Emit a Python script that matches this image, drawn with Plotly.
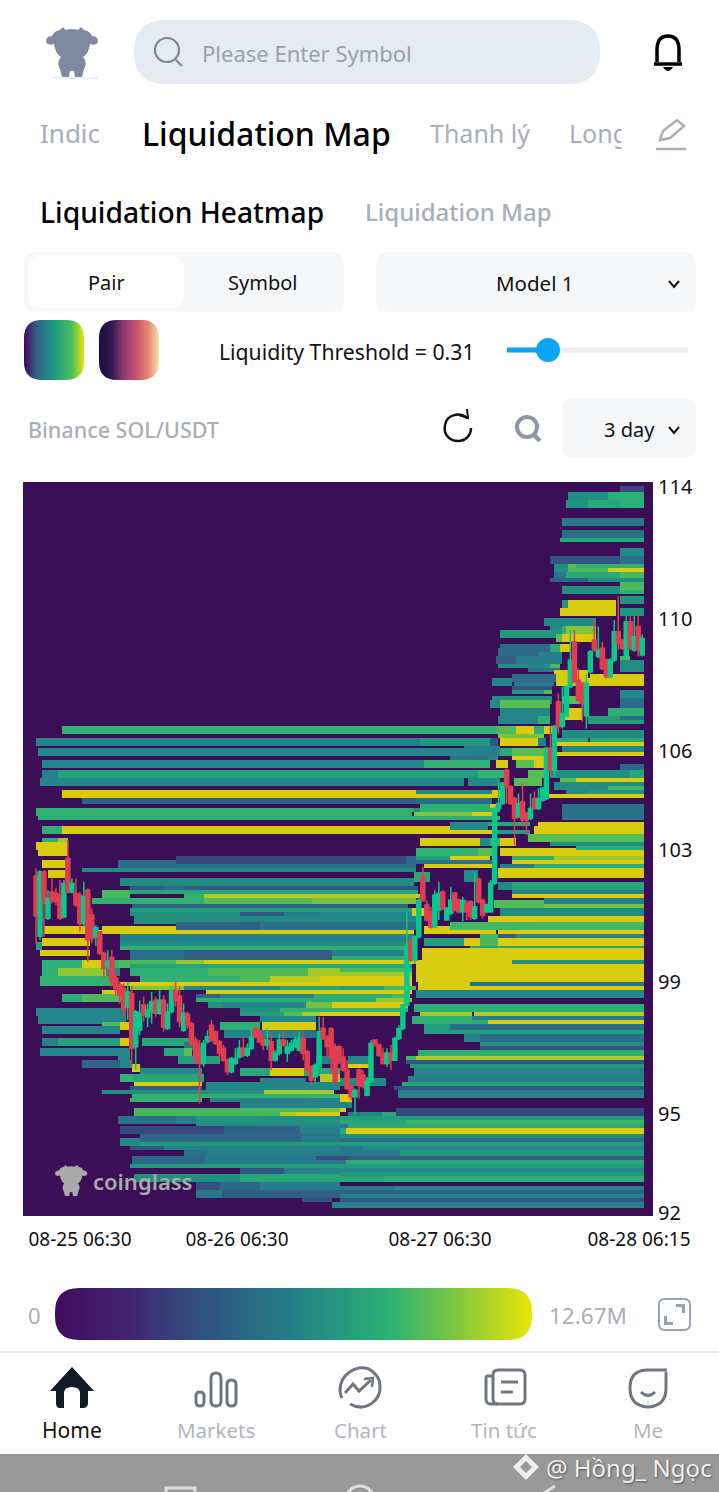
import re
import numpy as np
import plotly.graph_objects as go

W, H = 719, 1492
FONT = "Noto Sans"

# 30 minute-ish bars, x is the bar number on a category style axis
candle_open = [102.21,100.39,102.33,100.93,101.73,101.68,101.63,100.98,102.74,101.73,101.68,101.63,100.77,101.78,101.03,100.37,100.52,99.87,99.46,99.74,99.11,98.91,98.80,98.25,98.65,97.04,97.54,98.30,97.95,98.10,98.45,98.05,98.45,97.59,98.10,98.75,98.57,97.54,98.03,97.74,97.24,97.04,96.53,97.19,97.69,97.49,97.19,96.99,96.63,96.28,96.53,96.73,96.99,96.78,96.99,97.59,97.49,97.29,97.09,97.19,96.63,96.84,97.24,96.84,96.94,97.04,96.94,97.29,96.89,96.43,96.13,96.43,97.59,97.34,97.59,97.04,
               97.04,96.73,96.33,95.83,95.52,96.33,96.18,95.57,95.98,97.24,97.09,96.84,96.53,96.84,96.63,97.29,97.59,98.30,100.27,99.66,100.37,102.17,101.33,101.13,100.67,101.18,101.73,100.88,101.08,101.70,101.48,101.13,101.38,101.43,100.93,102.11,101.48,101.13,101.13,
               101.99,104.26,104.41,105.42,104.92,104.56,104.01,104.46,104.11,103.96,104.56,104.26,104.51,104.56,106.08,105.42,107.49,106.74,107.06,107.95,109.31,108.15,108.05,107.06,108.40,109.36,108.86,109.11,108.76,108.25,108.76,109.61,109.36,108.86,109.92,109.06,109.77,108.91]
candle_close = [101.00,102.33,101.38,101.53,101.48,101.43,100.93,101.99,101.73,101.99,101.33,100.77,101.58,100.27,100.32,100.65,99.87,99.41,99.61,99.01,98.80,98.60,98.15,98.70,96.99,98.10,98.05,98.00,98.15,98.40,98.05,98.45,97.64,98.10,98.75,98.45,97.80,98.05,97.69,97.14,96.73,96.53,97.14,97.34,97.24,97.14,96.84,96.63,96.28,96.68,96.68,96.99,96.78,96.99,97.34,97.34,97.19,97.09,97.24,96.63,96.84,97.24,97.09,97.04,97.14,97.24,97.29,96.84,96.33,96.03,96.48,97.49,97.29,97.04,96.73,95.98,
                96.58,96.33,95.77,95.52,95.72,95.88,95.83,95.98,97.14,97.09,96.78,96.53,96.84,96.63,97.29,97.59,98.30,100.07,99.66,100.37,101.48,101.46,100.88,100.67,101.63,101.68,101.23,101.23,101.48,101.18,101.13,101.48,101.13,100.98,101.28,101.43,101.03,101.33,101.99,
                104.26,104.41,105.02,104.92,104.41,103.96,104.41,103.91,103.91,104.26,104.26,104.56,104.87,106.08,105.42,106.74,106.74,107.14,107.95,108.76,108.10,107.54,107.44,108.05,109.01,109.06,109.06,108.50,108.25,108.76,109.61,109.26,109.11,109.92,109.11,109.46,109.06,109.41]
candle_high = [102.44,102.39,102.39,101.78,102.14,101.84,102.09,102.09,103.30,102.14,102.14,101.73,102.04,101.84,101.23,100.72,100.52,99.92,99.97,99.97,99.31,99.01,98.96,99.01,98.86,98.15,98.45,98.55,98.35,98.70,98.55,98.75,98.60,98.35,98.86,99.01,98.86,98.35,98.10,97.80,97.34,97.24,97.24,97.54,97.85,97.54,97.24,97.09,96.68,96.73,96.99,97.24,97.34,97.14,97.54,97.64,97.54,97.34,97.59,97.49,96.94,97.44,97.49,97.24,97.24,97.34,97.49,97.49,96.94,96.48,96.53,97.95,97.95,97.39,97.64,97.14,
               97.09,96.99,96.63,95.88,95.77,96.38,96.33,96.13,97.24,97.26,97.14,96.99,96.99,97.09,97.34,97.69,98.35,101.13,100.32,100.42,101.58,102.49,101.48,101.28,101.78,102.04,101.78,101.28,101.89,101.73,101.53,101.58,101.48,101.48,102.34,102.17,101.53,101.38,102.09,
               104.31,105.07,105.07,105.47,104.97,104.61,104.71,105.02,104.16,104.71,104.77,104.87,104.92,106.13,106.74,106.79,107.74,107.95,108.00,109.66,109.66,108.50,108.10,108.35,109.06,109.97,109.77,109.31,108.81,108.81,109.97,110.69,109.41,110.09,110.09,110.09,110.09,109.54]
candle_low = [100.17,100.27,100.37,100.88,101.38,101.33,100.88,100.93,101.68,101.68,101.28,100.52,100.67,99.61,100.17,100.09,99.82,99.14,99.36,98.86,98.60,98.35,97.95,97.85,96.43,96.33,97.39,97.80,97.64,97.74,97.95,98.00,97.49,97.54,98.05,98.25,97.64,97.49,97.59,97.04,96.53,95.32,96.43,97.14,97.19,97.09,96.73,96.58,96.18,96.23,96.48,96.68,96.73,96.73,96.94,97.29,97.14,96.94,96.94,96.33,96.58,96.78,97.04,96.58,96.89,96.99,96.89,96.63,96.28,95.88,95.93,96.38,97.24,96.73,96.23,95.93,
              96.53,96.28,95.72,95.42,94.97,95.47,95.77,95.54,95.95,97.04,96.73,96.51,96.43,96.33,96.61,97.24,97.54,98.25,99.61,99.56,100.32,101.43,100.83,100.62,100.62,100.88,101.18,100.86,101.03,101.13,101.08,100.83,100.88,100.88,100.88,101.38,100.93,101.08,101.10,
              101.94,104.21,104.36,104.41,104.36,103.15,103.96,103.71,103.45,103.91,104.21,104.21,104.46,104.51,105.22,105.22,106.53,106.68,107.02,107.90,108.05,107.49,106.89,106.68,108.35,109.01,108.81,108.45,108.20,108.20,108.70,109.06,109.06,108.81,109.06,109.01,108.86,108.86]

y_ticks = [114, 110, 106, 103, 99, 95, 92]
x_tick_bars = [11, 50.25, 101, 150.75]
x_tick_labels = ["08-25 06:30", "08-26 06:30", "08-27 06:30", "08-28 06:15"]
legend_min, legend_max = "0", "12.67M"
VMAX = 12.67

# liquidity bands: (price top, price bottom, [(from bar, to bar, value in M), ...])
bands_top = [
    (114.03, 113.79, [(146, 152, 3.3)]),
    (113.85, 113.61, [(133, 143, 6.3), (143, 152, 8)]),
    (113.61, 113.36, [(132.5, 138, 6.6), (138, 146, 7.6), (146, 152, 8)]),
    (113.06, 112.82, [(131.5, 152, 5)]),
    (112.70, 112.45, [(131.5, 152, 4.6)]),
    (112.45, 112.33, [(131, 152, 7.6)]),
    (112.15, 111.91, [(146, 152, 6)]),
    (111.91, 111.67, [(128.5, 146, 3.6), (146, 152, 4.6)]),
    (111.67, 111.55, [(129.5, 133, 6.3), (133, 135, 10), (135, 152, 8.4)]),
    (111.55, 111.42, [(129.5, 133, 6.3), (133, 143, 9.6), (143, 152, 12.67)]),
    (111.42, 111.24, [(129.5, 132.5, 5), (132.5, 146, 7.8), (146, 152, 9.4)]),
    (111.24, 111.12, [(128.5, 138, 4), (138, 152, 6.4)]),
    (111.12, 111.00, [(146, 152, 9.5)]),
    (111.00, 110.88, [(131.5, 146, 6.4), (146, 152, 9.5)]),
    (110.88, 110.76, [(131.5, 146, 6.4), (146, 152, 8)]),
    (110.70, 110.45, [(146, 152, 6.6)]),
    (110.58, 110.33, [(131.5, 133, 6.5), (133, 145, 12.67)]),
    (110.33, 110.09, [(131, 145, 12.67), (146, 152, 6.6)]),
    (110.03, 109.79, [(127, 140, 6)]),
    (109.79, 109.55, [(128.5, 131.5, 6), (131.5, 132.5, 8.5), (132.5, 140, 10.6)]),
    (109.67, 109.42, [(116, 128.5, 6.8), (128.5, 131.5, 6.6)]),
    (109.55, 109.30, [(130, 131.5, 10), (131.5, 140, 12.67)]),
    (109.24, 109.00, [(116, 128.5, 4.4), (128.5, 131, 8), (131, 133.5, 12.67)]),
    (109.12, 108.88, [(115.5, 125.5, 4.2)]),
    (109.00, 108.76, [(125.5, 131.5, 5.6)]),
    (108.88, 108.64, [(115, 120, 3.8), (120, 131.5, 5.2), (146, 148.5, 9.5)]),
    (108.76, 108.39, [(146, 152, 6.2)]),
    (108.64, 108.52, [(115.5, 128.5, 6.2), (128.5, 131, 9.5)]),
    (108.52, 108.39, [(123, 131, 5)]),
    (108.45, 108.21, [(129.5, 138, 12.67)]),
    (108.33, 107.97, [(138.5, 152, 12.67)]),
    (108.33, 108.09, [(119, 130, 4.2)]),
    (108.21, 107.97, [(114, 119, 5.6), (130, 138.5, 12.67)]),
    (108.09, 107.97, [(119.5, 129.5, 5.2)]),
    (107.97, 107.85, [(119, 129.25, 3.6)]),
    (107.85, 107.73, [(119, 127, 6.6), (127, 129.25, 10)]),
    (107.85, 107.61, [(146, 152, 6)]),
    (107.67, 107.42, [(114, 129, 6.4), (131.5, 136, 10)]),
    (107.61, 107.30, [(146, 152, 4.4)]),
    (107.55, 107.30, [(113.5, 116, 6), (116, 128.5, 10)]),
    (107.30, 107.06, [(116, 128.5, 5.8), (143, 152, 8)]),
    (107.30, 106.94, [(131.75, 136.75, 12.67)]),
    (107.06, 106.82, [(115.5, 125.5, 5.8), (125.5, 128.5, 8)]),
    (107.06, 106.94, [(138, 146, 7), (146, 152, 4.4)]),
    (106.94, 106.82, [(138, 152, 7)]),
]

bands_upper = [
    (106.76, 106.52, [(6.5, 115, 8.4), (115, 120, 9.8), (120, 124.5, 12.67), (124.5, 127, 8), (127, 129, 12.67)]),
    (106.64, 106.39, [(131.5, 152, 6.2)]),
    (106.52, 106.39, [(115.5, 127, 10.5)]),
    (106.39, 106.15, [(0, 96, 5.6), (96, 113.5, 6.6), (113.5, 115.5, 3.6), (116, 125.5, 12.67), (125.5, 127.5, 5.4)]),
    (106.39, 106.27, [(130, 138, 7.6), (138.5, 152, 7.8)]),
    (106.27, 106.15, [(129.5, 152, 12.67)]),
    (106.15, 106.09, [(107, 116, 5.4)]),
    (106.15, 105.97, [(131.5, 152, 6)]),
    (106.09, 105.85, [(0.5, 109, 5.8), (109, 116, 5.6), (116, 119, 7.8), (119, 127, 10)]),
    (105.97, 105.85, [(129.5, 152, 12.67)]),
    (105.85, 105.73, [(103.5, 113, 4.6), (113, 115.5, 6), (119, 127, 12.67)]),
    (105.73, 105.48, [(1.5, 97, 5.8), (97, 113.5, 8.4), (115, 118, 12.67), (120, 124.5, 10), (124.5, 127, 12.67)]),
    (105.61, 105.36, [(146, 152, 4.2)]),
    (105.42, 105.18, [(1.5, 5.5, 5.6), (5.5, 110.5, 7.2), (110.5, 117.5, 8.6), (123, 127, 10), (128.5, 148.5, 6.4), (148.5, 152, 7.4)]),
    (105.18, 104.94, [(1, 107, 5.8), (108, 116, 6), (119.5, 126.5, 10)]),
    (105.18, 105.06, [(131, 135, 10), (135, 152, 12.67)]),
    (105.06, 104.82, [(129.5, 152, 6.2)]),
    (104.94, 104.82, [(143, 152, 9)]),
    (104.82, 104.70, [(6.5, 95, 12.67), (95, 114, 6.2), (114, 116, 12.67), (132.5, 138, 6), (138, 152, 6.6)]),
    (104.70, 104.58, [(6.5, 116, 12.67), (128, 152, 12.67)]),
    (104.58, 104.39, [(11.5, 95, 3.8), (95, 114, 4.4)]),
    (104.39, 103.91, [(131.5, 152, 4.8)]),
    (104.39, 104.27, [(96, 113.5, 8), (113.5, 116, 12.67)]),
    (104.27, 104.15, [(0, 94.5, 8.4), (94.5, 96, 6), (96, 116, 8.2)]),
    (104.15, 104.03, [(0, 94, 8.4), (94.5, 109, 10.5), (109, 115, 12.67)]),
    (104.03, 103.91, [(0.5, 116, 8.2)]),
    (103.85, 103.73, [(125.5, 152, 12.67), (103.5, 113, 6), (113, 123.5, 7.6)]),
    (103.73, 103.61, [(1.5, 6.5, 8.4), (6.5, 103.5, 12.67), (103.5, 113, 6), (124.5, 152, 12.67)]),
    (103.61, 103.48, [(1.5, 6.5, 8.4), (6.5, 115, 12.67), (115, 123.5, 7), (124.5, 152, 12.67)]),
    (103.48, 103.24, [(123, 152, 10)]),
    (103.36, 103.12, [(1.5, 5.5, 8.4), (5.5, 8, 11), (96, 111, 12.67), (111, 113.5, 6.2), (113.5, 116, 8.4), (116, 120, 12.67)]),
    (103.24, 103.12, [(128.5, 152, 6.4)]),
    (103.24, 103.00, [(0, 8, 12.67)]),
    (103.12, 102.82, [(0.5, 8, 12.67)]),
]

bands_middle = [
    (103.12, 103.00, [(135, 152, 8)]),
    (103.06, 102.82, [(95, 110.5, 8.6), (110.5, 115, 10), (116, 135, 12.67)]),
    (103.00, 102.82, [(135, 152, 12.67)]),
    (102.82, 102.58, [(35, 92.5, 3.3), (92.5, 95, 4.2)]),
    (102.82, 102.70, [(95, 103.5, 7), (103.5, 113.5, 12.67), (119, 129.5, 8.4), (129.5, 152, 11)]),
    (102.70, 102.45, [(1.5, 7.5, 12.67), (20.5, 35, 4.4)]),
    (102.70, 102.58, [(95, 114.5, 4.6), (119, 152, 12.67)]),
    (102.58, 102.45, [(35, 95, 4.6), (97, 114.5, 12.67), (116, 124.5, 5.4), (124.5, 152, 7.8)]),
    (102.45, 102.33, [(11.5, 95, 6.2)]),
    (102.45, 102.15, [(115.5, 152, 12.67)]),
    (102.39, 102.15, [(3, 7.5, 12.67)]),
    (102.33, 102.03, [(94.5, 98.5, 7.6)]),
    (102.39, 102.03, [(107, 110.5, 6.2)]),
    (102.15, 101.91, [(21, 94.5, 6.2)]),
    (102.03, 101.79, [(115.5, 119, 6), (119, 152, 7.6)]),
    (101.91, 101.79, [(23.5, 32, 3.8), (32, 37, 4.4), (37, 95.5, 3.7)]),
    (101.79, 101.67, [(16.5, 23.5, 9.4), (23.5, 95.5, 7.4), (119, 152, 5.4)]),
    (101.67, 101.55, [(16.5, 23.5, 9.4), (37, 42, 8.6), (42, 95, 11.6), (95, 96, 12.67), (119, 152, 12.67)]),
    (101.55, 101.36, [(14, 42, 8.4), (42, 69, 9.8), (69, 95, 10.4), (127, 152, 5.4)]),
    (101.48, 101.24, [(114.5, 127, 9.8)]),
    (101.36, 101.24, [(24, 93, 4), (127, 152, 10.4)]),
    (101.24, 101.12, [(23.5, 94, 7), (94, 95, 8)]),
    (101.24, 101.00, [(94, 97.5, 12.67), (116, 152, 6.2)]),
    (101.12, 100.88, [(51, 62, 3.6), (62, 71, 5.4)]),
    (101.12, 101.00, [(23.5, 51, 6.4), (71, 94, 5.8)]),
    (101.00, 100.76, [(24.5, 51, 6.4), (51, 96, 6), (113, 152, 12.67)]),
    (100.82, 100.58, [(35, 56, 3.9), (56, 95, 4.6)]),
    (100.82, 100.70, [(103.5, 125, 9.2), (125, 152, 9.4)]),
    (100.70, 100.58, [(2, 13, 12.67), (16.5, 35, 12.67), (97, 103.5, 12.67), (103.5, 152, 9.2)]),
    (100.58, 100.45, [(2, 94.5, 12.67), (97, 115, 12.67), (115.5, 152, 12.67)]),
    (100.45, 100.21, [(21, 94.5, 5.6)]),
    (100.45, 100.33, [(111, 115.5, 9.4), (115.5, 120, 3.9), (120, 152, 5.8)]),
    (100.33, 100.09, [(1.5, 13.5, 12.67), (97, 107, 7), (107, 152, 12.67), (111, 115.5, 9.4)]),
    (100.21, 99.97, [(0, 1.5, 7)]),
    (100.21, 100.09, [(21, 94.5, 6.4)]),
    (100.09, 99.97, [(21, 94.5, 8), (108.5, 152, 7.4)]),
    (100.03, 99.67, [(96.5, 152, 12.67)]),
    (99.97, 99.79, [(1, 13.5, 12.67), (23.5, 37, 4.4), (37, 74, 3.8), (74, 94, 5.6)]),
    (99.79, 99.67, [(23.5, 37, 4.4), (37, 74, 3.8), (74, 94, 8.2)]),
]

bands_lower = [
    (99.67, 99.42, [(1.5, 11.5, 8.2), (11.5, 17.5, 12.67), (17.5, 20.5, 8.6), (20.5, 35, 9.6), (35, 42, 10.8)]),
    (99.67, 99.55, [(42, 96.5, 12.67), (96.5, 119, 12.67), (119, 152, 6.4)]),
    (99.55, 99.42, [(23.5, 94, 7.4)]),
    (99.55, 99.00, [(95, 152, 12.67)]),
    (99.42, 99.18, [(1.5, 5.5, 8.2), (5.5, 17.5, 10.8), (17.5, 21, 6), (23.5, 43, 8), (43, 68, 9.6), (68, 76, 11)]),
    (99.42, 99.30, [(76, 94, 9.4)]),
    (99.30, 99.18, [(76, 94, 11)]),
    (99.18, 99.00, [(1, 20, 8.4), (26, 51, 8.4), (51, 58.5, 9.6), (58.5, 71, 11.8), (71, 94, 12.67)]),
    (99.00, 98.88, [(1, 20, 8.4), (21, 94, 12.67), (95.5, 108.5, 12.67), (108.5, 152, 4.6)]),
    (98.88, 98.76, [(23.5, 37, 10.6), (37, 61, 6), (61, 76, 7.4), (76, 87, 7), (87, 95, 9.6), (95.5, 152, 12.67)]),
    (98.76, 98.64, [(16.5, 21, 12.67), (42.5, 94, 12.67)]),
    (98.64, 98.52, [(16.5, 21, 12.67), (40, 46, 3.9), (46, 69.5, 5.6), (69.5, 89, 8), (89, 93.5, 9.6)]),
    (98.76, 98.52, [(95, 152, 5.8)]),
    (98.64, 98.39, [(6.5, 11.5, 8), (11.5, 22, 9.6)]),
    (98.52, 98.39, [(40, 85, 8), (85, 94, 10.8)]),
    (98.39, 98.21, [(43, 46.5, 6.5), (46.5, 67.5, 6), (67.5, 74, 10.4), (74, 93, 12.67)]),
    (98.33, 98.09, [(94.5, 152, 8)]),
    (98.21, 97.97, [(0, 22.5, 5.8)]),
    (98.21, 98.09, [(51, 61, 6.4), (61, 93, 8.6)]),
    (98.09, 97.97, [(51, 62, 7), (62, 66.5, 9.8), (66.5, 71, 11), (71, 91, 12.67), (96, 109, 11), (109.5, 152, 11.4)]),
    (97.97, 97.85, [(0.5, 22.5, 5.8), (94, 109, 8), (109, 152, 5.4)]),
    (97.85, 97.73, [(0.5, 22.5, 5.8), (94, 113, 8), (113, 152, 12.67)]),
    (97.97, 97.79, [(56, 70, 6)]),
    (97.79, 97.55, [(16.5, 21, 9.6), (21, 24, 12.67), (46, 56, 8.2), (56.5, 70, 12.67)]),
    (97.73, 97.55, [(97, 103.5, 7), (103.5, 152, 4.4)]),
    (97.67, 97.42, [(1.5, 21, 5.8)]),
    (97.55, 97.42, [(97, 152, 7)]),
    (97.55, 97.30, [(47, 66.5, 5.6), (66.5, 70, 4.6)]),
    (97.42, 97.18, [(107, 111, 5.4), (111, 152, 4.4)]),
    (97.30, 97.06, [(1.5, 5.5, 5.6), (5.5, 21, 7.2), (21, 24.5, 12.67), (26.5, 39, 7.6)]),
    (97.18, 97.06, [(111, 152, 6.4)]),
    (97.18, 96.94, [(37, 41, 5.2)]),
    (97.06, 96.94, [(111, 152, 3.6)]),
    (97.00, 96.76, [(1, 23.5, 5.8), (32, 37, 7.6), (37, 39, 10)]),
    (96.94, 96.76, [(95.5, 152, 8.2)]),
    (96.76, 96.64, [(92.5, 95, 9), (95, 152, 11.5)]),
    (96.76, 96.52, [(20.5, 23.5, 5.8), (35.5, 46, 7), (70, 76, 5.4), (78, 83.5, 5.8)]),
    (96.64, 96.52, [(92.5, 152, 3.6)]),
    (96.64, 96.39, [(11.5, 21, 4), (21, 24, 5.8)]),
    (96.52, 96.39, [(93.5, 152, 6.8), (78, 83.5, 12.67)]),
    (96.52, 96.27, [(24, 26, 12.67)]),
    (96.39, 96.15, [(26, 41.5, 5.8), (51, 58.5, 7.6), (58.5, 67, 12.67), (67, 76, 7.6), (94.5, 152, 5.6)]),
    (96.21, 95.97, [(21, 24.5, 8.4), (24.5, 42, 7.4), (71, 76, 11.4)]),
    (96.15, 95.97, [(93, 152, 5.4)]),
    (96.09, 95.85, [(56, 67.5, 5.6), (76, 87.5, 6.2)]),
    (95.97, 95.85, [(24.5, 41.5, 12.67), (42.5, 56, 6), (67.5, 76, 6), (91.5, 152, 7.4)]),
    (95.85, 95.73, [(23.5, 41.5, 3.8), (42.5, 76, 5.8), (89.5, 152, 3.6)]),
    (95.73, 95.61, [(16.5, 24, 6.4), (24, 57, 6.4), (57, 74.5, 11), (90.5, 152, 5.6)]),
    (95.61, 95.48, [(24, 46, 8.2), (46, 67.5, 8), (67.5, 76, 8.8), (76, 79, 12.67), (90.5, 152, 5.6)]),
    (95.48, 95.36, [(23.5, 41.5, 8.6), (43.5, 76, 5.6), (76, 79, 12.67)]),
    (95.36, 95.18, [(51, 79, 5.6)]),
]

bands_bottom = [
    (95.18, 95.06, [(24.5, 71, 9.4), (71, 76, 10.4), (76, 77.5, 12.67), (90, 152, 3.3)]),
    (95.06, 94.94, [(24.5, 61, 9.4), (61, 65, 11.4), (65, 76, 12.67), (78, 81, 5), (81, 86.5, 6), (86.5, 90, 7.6), (90, 152, 3.3)]),
    (94.94, 94.82, [(76, 152, 7)]),
    (94.94, 94.70, [(20.5, 35, 4.8), (35, 40, 5.4), (40, 56, 6.6), (56, 76, 6.4)]),
    (94.82, 94.70, [(76, 92.5, 7.6), (92.5, 152, 9)]),
    (94.70, 94.58, [(40, 76, 6), (76, 78, 5), (78, 152, 7.8)]),
    (94.64, 94.39, [(21, 47, 3.3), (47, 66, 4), (66, 76, 5.6)]),
    (94.58, 94.39, [(76, 77.5, 7.6), (77.5, 152, 12.67)]),
    (94.39, 94.27, [(26, 66.5, 4.2), (66.5, 76, 5.2), (76, 152, 6.4)]),
    (94.27, 94.15, [(21, 26, 6), (26, 66.5, 4.2), (66.5, 76, 5.2), (76, 152, 4.6)]),
    (94.15, 94.03, [(21, 26, 6), (26, 76, 6.8), (76, 152, 7)]),
    (94.03, 93.91, [(23.5, 32, 3.6), (32, 76, 5.6), (76, 81.5, 5), (81.5, 152, 6)]),
    (93.91, 93.73, [(37, 42.5, 4.6), (42.5, 76, 5.4), (76, 91, 5), (91, 152, 6.8)]),
    (93.73, 93.61, [(24, 42, 4.2), (42, 70, 5.2), (70, 78, 3.4), (78, 152, 3.8)]),
    (93.61, 93.48, [(24, 42, 4.2), (42, 76, 5.2), (76, 77.5, 5), (77.5, 91, 8), (91, 152, 7.6)]),
    (93.48, 93.36, [(23.5, 152, 7)]),
    (93.36, 93.24, [(51, 62, 3.6), (62, 71, 5.5), (71, 76, 6), (76, 152, 5.8)]),
    (93.24, 93.12, [(51, 62, 3.6), (62, 71, 5.5), (71, 76, 6), (76, 152, 6.8)]),
    (93.18, 92.94, [(24.5, 51, 6.4), (51, 76, 7.6)]),
    (93.12, 92.94, [(76, 87, 7.6), (87, 152, 8)]),
    (92.94, 92.70, [(40, 46, 3.5), (46, 56, 4.2), (56, 76, 5.4)]),
    (92.82, 92.70, [(76, 89.5, 5), (89.5, 152, 5.8)]),
    (92.70, 92.58, [(40, 46.5, 5), (46.5, 76, 3.8), (76, 152, 3.9)]),
    (92.58, 92.45, [(40, 46.5, 5), (46.5, 76, 3.8), (76, 152, 5.6)]),
    (92.45, 92.33, [(66.5, 74, 3.5), (76, 152, 3.6)]),
    (92.33, 92.15, [(74, 152, 5.6)]),
]

heat_scale = [[0, "#3b0f57"], [0.2, "#3a3472"], [0.26, "#35497f"], [0.3, "#2f5f85"], [0.35, "#2b6d88"],
              [0.395, "#28778a"], [0.458, "#24858a"], [0.505, "#21907f"], [0.552, "#229e7c"],
              [0.63, "#2cae75"], [0.68, "#33b170"], [0.79, "#58bd52"], [0.868, "#a0c92c"], [1, "#d9cc0f"]]
bar_scale = [[0, "#440a5c"], [0.15, "#41246f"], [0.3, "#30507f"], [0.5, "#238088"], [0.7, "#2bb074"],
             [0.85, "#83c83c"], [1, "#e6e607"]]
viridis_swatch = [[0, "#440a5c"], [0.2, "#2f5f85"], [0.5, "#1f9a84"], [0.8, "#4cc05c"], [1, "#e6e607"]]
magma_scale = [[0, "#1a1040"], [0.2, "#2d1650"], [0.4, "#8a3a70"], [0.6, "#c5506f"], [0.8, "#e5806f"], [1, "#f7e0ae"]]

# page helpers, everything that is not the chart is placed in screen pixels
def px(x):
    return x / W

def py(y):
    return 1 - y / H

def page_path(cmd):
    # "M 10 20 L 30 40" in screen pixels -> paper coordinates
    out, is_x = [], True
    for tok in re.findall(r"[A-Za-z]|-?[\d.]+", cmd):
        if tok.isalpha():
            out.append(tok)
            is_x = True
        else:
            out.append(f"{px(float(tok)):.5f}" if is_x else f"{py(float(tok)):.5f}")
            is_x = not is_x
    return " ".join(out)

shapes = []
labels = []

def draw(cmd, fill=None, line=None, lw=0):
    shapes.append(dict(type="path", xref="paper", yref="paper", path=page_path(cmd),
                       fillcolor=fill if fill else "rgba(0,0,0,0)",
                       line=dict(color=line if line else "rgba(0,0,0,0)", width=lw)))

def round_cmd(x0, y0, x1, y1, r):
    return (f"M {x0+r} {y0} L {x1-r} {y0} Q {x1} {y0} {x1} {y0+r} L {x1} {y1-r} Q {x1} {y1} {x1-r} {y1} "
            f"L {x0+r} {y1} Q {x0} {y1} {x0} {y1-r} L {x0} {y0+r} Q {x0} {y0} {x0+r} {y0} Z")

def round_box(x0, y0, x1, y1, r, fill=None, line=None, lw=0):
    draw(round_cmd(x0, y0, x1, y1, r), fill, line, lw)

def corner_mask(x0, y0, x1, y1, r):
    # white frame, hole wound the other way, gives the gradient boxes round corners
    hole = (f"M {x0+r} {y0} Q {x0} {y0} {x0} {y0+r} L {x0} {y1-r} Q {x0} {y1} {x0+r} {y1} L {x1-r} {y1} "
            f"Q {x1} {y1} {x1} {y1-r} L {x1} {y0+r} Q {x1} {y0} {x1-r} {y0} Z")
    outer = f"M {x0-1} {y0-1} L {x1+1} {y0-1} L {x1+1} {y1+1} L {x0-1} {y1+1} Z"
    draw(outer + " " + hole, fill="#ffffff")

def ring(cx, cy, r, line, lw, fill=None):
    shapes.append(dict(type="circle", xref="paper", yref="paper", x0=px(cx-r), x1=px(cx+r), y0=py(cy+r), y1=py(cy-r),
                       fillcolor=fill if fill else "rgba(0,0,0,0)",
                       line=dict(color=line if line else "rgba(0,0,0,0)", width=lw)))

def label(text, x, y, size, color="#000000", anchor="left", **font_extra):
    labels.append(dict(text=text, x=px(x), y=py(y - 1), xref="paper", yref="paper", xanchor=anchor, yanchor="middle",
                       showarrow=False, borderpad=0, borderwidth=0,
                       font=dict(family=FONT, size=size, color=color, **font_extra)))

def cow(x, y, k, fill):
    pts = ("M 14 3 L 17 0 L 20 3 Q 26 1 32 3 L 35 0 L 38 3 Q 44 4 46 9 Q 52 9 52 15 Q 50 19 44 17 Q 43 26 37 30 "
           "Q 42 36 38 42 L 36 50 L 29 50 L 28 44 L 24 44 L 23 50 L 16 50 L 14 42 Q 10 36 15 30 Q 9 26 8 17 "
           "Q 2 19 0 15 Q 0 9 6 9 Q 8 4 14 3 Z")
    vals, is_x = [], True
    for tok in pts.split():
        if tok.isalpha():
            vals.append(tok)
            is_x = True
        else:
            vals.append(str(x + float(tok) * k) if is_x else str(y + float(tok) * k))
            is_x = not is_x
    draw(" ".join(vals), fill=fill)

def chevron(cx, cy):
    draw(f"M {cx-5} {cy-3} L {cx} {cy+3} L {cx+5} {cy-3}", line="#111111", lw=2)

GREY_TXT = "#a9aeb8"
ICON = "#70757f"

# top bar
draw("M 52 78 L 98 78", line="#eef0f3", lw=2)
cow(46, 27, 1, "#7f8a9e")
round_box(134, 20, 600, 84, 32, fill="#e6eaf1")
ring(167, 50, 12, "#7f858f", 2.2)
draw("M 176 60 L 182 66", line="#7f858f", lw=2.2)
label("Please Enter Symbol", 202, 54, 22, "#9aa0ac")
draw("M 657 62 L 657 50 Q 657 36 668 36 Q 679 36 679 50 L 679 62", line="#000000", lw=3.5)
draw("M 654 64 L 682 64", line="#000000", lw=3.5)
draw("M 663 67 L 673 67 Q 668 75 663 67 Z", fill="#000000")

# tabs
label("Indic", 40, 134, 26, GREY_TXT)
label("Liquidation Map", 142, 135, 32, "#000000", weight=500)
label("Thanh lý", 430, 134, 25, GREY_TXT)
label("Long", 569, 134, 25, GREY_TXT)
draw("M 660 140 L 663 131 L 677 120 L 684 126 L 670 138 Z", line=GREY_TXT, lw=2.5)
draw("M 656 149 L 686 149", line=GREY_TXT, lw=2.5)
label("Liquidation Heatmap", 40, 213, 28.2, "#000000", weight=500)
label("Liquidation Map", 365, 213, 24, GREY_TXT, weight=500)

# controls
round_box(24, 252, 344, 312, 12, fill="#f6f7f9")
round_box(28, 256, 184, 308, 12, fill="#ffffff")
label("Pair", 106, 284, 20, "#111111", "center")
label("Symbol", 262, 284, 20, "#111111", "center")
round_box(376, 252, 696, 312, 12, fill="#f6f7f9")
label("Model 1", 535, 284, 20.5, "#111111", "center")
chevron(674, 284)
label("Liquidity Threshold = 0.31", 219, 352, 21.2, "#111111")
draw("M 507 350 L 688 350", line="#eeeeee", lw=5)
draw("M 507 350 L 548 350", line="#0aa5f5", lw=5)
ring(548, 350, 12, None, 0, fill="#0aa5f5")
label("Binance SOL/USDT", 28, 430, 21.5, GREY_TXT, weight=500)
draw("M 467 418 C 460 412 447 414 445 425 C 443 436 451 441 458 441 C 465 441 471 436 471 428", line="#111111", lw=2.5)
draw("M 459 415 L 468 418 L 467 409", line="#111111", lw=2)
ring(527, 427, 10, "#8e96a5", 4)
draw("M 534 435 L 540 441", line="#8e96a5", lw=4)
round_box(562, 398, 696, 458, 12, fill="#f6f7f9")
label("3 day", 629, 430, 20, "#111111", "center")
chevron(674, 430)

# chart watermark
cow(55, 1165, 0.62, "#a9a9a9")
label("coinglass", 93, 1182, 22, "#a9a9a9", weight=600)

# legend row
label(legend_min, 34, 1316, 22, GREY_TXT, "center")
label(legend_max, 549, 1316, 22.5, GREY_TXT)
round_box(659, 1299, 690, 1330, 6, line="#9aa3b5", lw=2)
draw("M 676 1304 L 685 1304 L 685 1313 L 682 1313 L 682 1307 L 676 1307 Z", fill="#9aa3b5")
draw("M 664 1316 L 667 1316 L 667 1322 L 673 1322 L 673 1325 L 664 1325 Z", fill="#9aa3b5")
draw("M 0 1352 L 719 1352", line="#e3e3e3", lw=1.5)

# bottom nav
draw("M 72 1367 L 94 1391 L 88 1391 L 88 1403 Q 88 1408 83 1408 L 80 1408 L 80 1393 Q 80 1387 72 1387 Q 64 1387 64 1393 "
     "L 64 1408 L 60 1408 Q 56 1408 56 1403 L 56 1391 L 50 1391 Z", fill="#111827")
round_box(196, 1392, 204, 1406, 4, line=ICON, lw=3)
round_box(211, 1373, 221, 1406, 5, line=ICON, lw=3)
round_box(227, 1380, 236, 1406, 4.5, line=ICON, lw=3)
draw("M 369 1369 C 356 1364 340 1375 340 1390 C 340 1392 340 1394 342 1398", line=ICON, lw=3)
draw("M 350 1404 C 366 1413 381 1400 380 1386 C 380 1379 376 1373 369 1369", line=ICON, lw=3)
draw("M 345 1393 L 353 1384 L 359 1391 L 371 1380", line=ICON, lw=3)
draw("M 364 1379 L 373 1378 L 372 1387", line=ICON, lw=2.5)
round_box(493, 1370, 525, 1404, 5, line=ICON, lw=3)
draw("M 493 1376 L 488 1376 Q 486 1376 486 1379 L 486 1399 Q 486 1404 491 1404 L 498 1404", line=ICON, lw=3)
draw("M 501 1382 L 518 1382", line=ICON, lw=3)
draw("M 501 1392 L 513 1392", line=ICON, lw=3)
draw("M 667 1370 L 646 1370 Q 630 1371 630 1388 Q 630 1406 648 1407 Q 666 1406 666 1388 L 666 1372", line=ICON, lw=3)
draw("M 641 1392 Q 648 1399 655 1392", line=ICON, lw=3)
label("Home", 72, 1431, 21, "#111111", "center")
label("Markets", 216, 1431, 20.5, "#b4b6bb", "center")
label("Chart", 360, 1431, 20.5, "#b4b6bb", "center")
label("Tin tức", 504, 1431, 20.5, "#b4b6bb", "center")
label("Me", 648, 1431, 20.5, "#b4b6bb", "center")

# system bar
draw(f"M 0 1454 L {W} 1454 L {W} {H} L 0 {H} Z", fill="#999999")
draw("M 166 1492 L 166 1488 L 195 1488 L 195 1492", line="#dedede", lw=3)
ring(360, 1500, 14, "#dedede", 3)
draw("M 555 1486 L 538 1497", line="#dedede", lw=3)
draw("M 526 1454 L 539 1467 L 526 1480 L 513 1467 Z M 526 1461 L 520 1467 L 526 1473 L 532 1467 Z", fill="#eeeeee")
label("@ Hồng_ Ngọc", 546, 1468, 24, "#efefef", shadow="1px 1px 2px #555555")

# paint the bands on a 2 px grid
grid_x = np.arange(-3.25, 154.5, 0.5)
grid_y = 114 + (487 - np.arange(483, 1217, 2)) / 33
z = np.zeros((len(grid_y), len(grid_x)))
for top, bottom, runs in bands_top + bands_upper + bands_middle + bands_lower + bands_bottom:
    rows = (grid_y < top) & (grid_y > bottom)
    for start, end, value in runs:
        cols = (grid_x > start) & (grid_x < end)
        z[np.ix_(rows, cols)] = value

bars = np.arange(len(candle_open)) * 0.997
ramp = np.linspace(0, 1, 240)

fig = go.Figure()
fig.add_trace(go.Heatmap(x=grid_x, y=grid_y[::-1], z=z[::-1], zmin=0, zmax=VMAX, colorscale=heat_scale,
                         showscale=False, hoverinfo="skip", zsmooth=False))
fig.add_trace(go.Candlestick(x=bars, open=candle_open, high=candle_high, low=candle_low, close=candle_close,
                             increasing=dict(line=dict(color="#08c98b", width=1.5), fillcolor="#08c98b"),
                             decreasing=dict(line=dict(color="#e23d50", width=1.5), fillcolor="#e23d50"),
                             whiskerwidth=0, showlegend=False, hoverinfo="skip"))
fig.add_trace(go.Heatmap(z=[ramp], x=ramp, y=[0], colorscale=bar_scale, zmin=0, zmax=1, showscale=False,
                         hoverinfo="skip", xaxis="x2", yaxis="y2"))
fig.add_trace(go.Heatmap(z=[ramp], x=ramp, y=[0], colorscale=viridis_swatch, zmin=0, zmax=1, showscale=False,
                         hoverinfo="skip", xaxis="x3", yaxis="y3"))
fig.add_trace(go.Heatmap(z=[ramp], x=ramp, y=[0], colorscale=magma_scale, zmin=0, zmax=1, showscale=False,
                         hoverinfo="skip", xaxis="x4", yaxis="y4"))

corner_mask(55, 1288, 532, 1340, 24)
corner_mask(24, 320, 84, 380, 18)
corner_mask(99, 320, 159, 380, 18)

def hidden(x0, y0, x1, y1):
    xa = dict(domain=[px(x0), px(x1)], visible=False, fixedrange=True, automargin=False)
    ya = dict(domain=[py(y1), py(y0)], visible=False, fixedrange=True, automargin=False)
    return xa, ya

x2, y2 = hidden(55, 1288, 532, 1340)
x3, y3 = hidden(24, 320, 84, 380)
x4, y4 = hidden(99, 320, 159, 380)
x2["anchor"], y2["anchor"] = "y2", "x2"
x3["anchor"], y3["anchor"] = "y3", "x3"
x4["anchor"], y4["anchor"] = "y4", "x4"

fig.update_layout(
    width=W, height=H, autosize=False,
    margin=dict(l=0, r=0, t=0, b=0, pad=0, autoexpand=False),
    paper_bgcolor="#ffffff", plot_bgcolor="#3b0f57",
    font=dict(family=FONT),
    showlegend=False, boxmode="overlay", boxgap=0, boxgroupgap=0,
    xaxis=dict(domain=[px(23), px(653)], range=[-3.25, 154.25], rangeslider=dict(visible=False),
               tickvals=x_tick_bars, ticktext=x_tick_labels, ticks="outside", ticklen=6, tickcolor="rgba(0,0,0,0)",
               tickfont=dict(size=19, color="#111111", family=FONT), showgrid=False, zeroline=False, showline=False,
               fixedrange=True, tickangle=0, automargin=False),
    yaxis=dict(domain=[py(1216), py(482)], range=[91.909, 114.1515], side="right", tickvals=y_ticks,
               ticks="outside", ticklen=0, tickcolor="rgba(0,0,0,0)",
               tickfont=dict(size=20, color="#111111", family=FONT), showgrid=False, zeroline=False, showline=False,
               fixedrange=True, automargin=False),
    xaxis2=x2, yaxis2=y2, xaxis3=x3, yaxis3=y3, xaxis4=x4, yaxis4=y4,
    shapes=shapes, annotations=labels,
)
# cut the "Long" tab like the scrolling strip does
fig.add_annotation(x=px(621), y=py(134), xref="paper", yref="paper", xanchor="left", yanchor="middle", text=" ",
                   width=24, height=40, bgcolor="#ffffff", showarrow=False)

fig.write_html("out.html", config=dict(displayModeBar=False),
               post_script="document.body.style.margin='0';document.documentElement.style.overflow='hidden';")
